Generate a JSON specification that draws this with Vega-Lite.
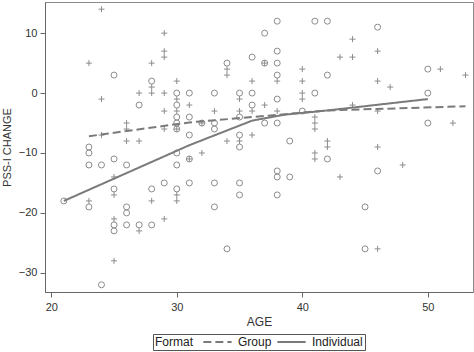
{
  "$schema": "https://vega.github.io/schema/vega-lite/v6.json",
  "width": 428,
  "height": 290,
  "autosize": "none",
  "padding": {"left": 45, "top": 2, "right": 1, "bottom": 60},
  "background": "white",
  "config": {
    "font": "Liberation Sans",
    "view": {"stroke": "#8a8a8a", "strokeWidth": 1},
    "axis": {
      "grid": false,
      "domainColor": "#666666",
      "tickColor": "#666666",
      "tickSize": 5,
      "labelColor": "#333333",
      "labelFontSize": 11,
      "labelFont": "Liberation Sans",
      "titleFont": "Liberation Sans",
      "titleFontWeight": "normal",
      "titleColor": "#333333",
      "titleFontSize": 11
    }
  },
  "datasets": {
    "pts": [
      {"age": 24, "pss": 14, "fmt": "Group"},
      {"age": 29, "pss": 10, "fmt": "Group"},
      {"age": 29, "pss": 7, "fmt": "Group"},
      {"age": 29, "pss": 6, "fmt": "Group"},
      {"age": 23, "pss": 5, "fmt": "Group"},
      {"age": 28, "pss": 5, "fmt": "Group"},
      {"age": 28, "pss": 1, "fmt": "Group"},
      {"age": 30, "pss": 2, "fmt": "Group"},
      {"age": 27, "pss": 0, "fmt": "Group"},
      {"age": 28, "pss": 0, "fmt": "Group"},
      {"age": 29, "pss": 0, "fmt": "Group"},
      {"age": 24, "pss": -1, "fmt": "Group"},
      {"age": 30, "pss": -1, "fmt": "Group"},
      {"age": 31, "pss": -2, "fmt": "Group"},
      {"age": 29, "pss": -3, "fmt": "Group"},
      {"age": 30, "pss": -3, "fmt": "Group"},
      {"age": 26, "pss": -5, "fmt": "Group"},
      {"age": 26, "pss": -6, "fmt": "Group"},
      {"age": 24, "pss": -7, "fmt": "Group"},
      {"age": 29, "pss": -6, "fmt": "Group"},
      {"age": 30, "pss": -6, "fmt": "Group"},
      {"age": 26, "pss": -8, "fmt": "Group"},
      {"age": 27, "pss": -8, "fmt": "Group"},
      {"age": 31, "pss": -11, "fmt": "Group"},
      {"age": 25, "pss": -14, "fmt": "Group"},
      {"age": 23, "pss": -18, "fmt": "Group"},
      {"age": 25, "pss": -17, "fmt": "Group"},
      {"age": 25, "pss": -21, "fmt": "Group"},
      {"age": 27, "pss": -23, "fmt": "Group"},
      {"age": 28, "pss": -18, "fmt": "Group"},
      {"age": 29, "pss": -21, "fmt": "Group"},
      {"age": 30, "pss": -17, "fmt": "Group"},
      {"age": 30, "pss": -18, "fmt": "Group"},
      {"age": 25, "pss": -28, "fmt": "Group"},
      {"age": 32, "pss": -10, "fmt": "Group"},
      {"age": 41, "pss": -10, "fmt": "Group"},
      {"age": 41, "pss": -11, "fmt": "Group"},
      {"age": 42, "pss": -9, "fmt": "Group"},
      {"age": 42, "pss": -8, "fmt": "Group"},
      {"age": 46, "pss": -9, "fmt": "Group"},
      {"age": 43, "pss": -14, "fmt": "Group"},
      {"age": 48, "pss": -12, "fmt": "Group"},
      {"age": 46, "pss": -26, "fmt": "Group"},
      {"age": 37, "pss": 5, "fmt": "Group"},
      {"age": 34, "pss": 4, "fmt": "Group"},
      {"age": 34, "pss": 3, "fmt": "Group"},
      {"age": 38, "pss": 2, "fmt": "Group"},
      {"age": 36, "pss": 2, "fmt": "Group"},
      {"age": 40, "pss": 4, "fmt": "Group"},
      {"age": 40, "pss": 2, "fmt": "Group"},
      {"age": 40, "pss": 0, "fmt": "Group"},
      {"age": 40, "pss": -1, "fmt": "Group"},
      {"age": 35, "pss": -1, "fmt": "Group"},
      {"age": 37, "pss": -2, "fmt": "Group"},
      {"age": 33, "pss": -3, "fmt": "Group"},
      {"age": 35, "pss": -3, "fmt": "Group"},
      {"age": 36, "pss": -3, "fmt": "Group"},
      {"age": 38, "pss": -3, "fmt": "Group"},
      {"age": 32, "pss": -5, "fmt": "Group"},
      {"age": 41, "pss": -4, "fmt": "Group"},
      {"age": 41, "pss": -5, "fmt": "Group"},
      {"age": 41, "pss": -6, "fmt": "Group"},
      {"age": 34, "pss": -8, "fmt": "Group"},
      {"age": 35, "pss": -8, "fmt": "Group"},
      {"age": 36, "pss": -7, "fmt": "Group"},
      {"age": 44, "pss": 9, "fmt": "Group"},
      {"age": 43, "pss": 6, "fmt": "Group"},
      {"age": 44, "pss": 6, "fmt": "Group"},
      {"age": 46, "pss": 7, "fmt": "Group"},
      {"age": 51, "pss": 4, "fmt": "Group"},
      {"age": 53, "pss": 3, "fmt": "Group"},
      {"age": 46, "pss": 2, "fmt": "Group"},
      {"age": 47, "pss": 1, "fmt": "Group"},
      {"age": 44, "pss": -2, "fmt": "Group"},
      {"age": 46, "pss": -3, "fmt": "Group"},
      {"age": 52, "pss": -5, "fmt": "Group"},
      {"age": 25, "pss": 3, "fmt": "Individual"},
      {"age": 28, "pss": 2, "fmt": "Individual"},
      {"age": 30, "pss": 0, "fmt": "Individual"},
      {"age": 31, "pss": 0, "fmt": "Individual"},
      {"age": 27, "pss": -2, "fmt": "Individual"},
      {"age": 30, "pss": -2, "fmt": "Individual"},
      {"age": 30, "pss": -4, "fmt": "Individual"},
      {"age": 31, "pss": -4, "fmt": "Individual"},
      {"age": 30, "pss": -5, "fmt": "Individual"},
      {"age": 30, "pss": -6, "fmt": "Individual"},
      {"age": 31, "pss": -7, "fmt": "Individual"},
      {"age": 23, "pss": -9, "fmt": "Individual"},
      {"age": 23, "pss": -10, "fmt": "Individual"},
      {"age": 23, "pss": -12, "fmt": "Individual"},
      {"age": 24, "pss": -12, "fmt": "Individual"},
      {"age": 25, "pss": -11, "fmt": "Individual"},
      {"age": 26, "pss": -12, "fmt": "Individual"},
      {"age": 30, "pss": -10, "fmt": "Individual"},
      {"age": 30, "pss": -12, "fmt": "Individual"},
      {"age": 31, "pss": -11, "fmt": "Individual"},
      {"age": 21, "pss": -18, "fmt": "Individual"},
      {"age": 23, "pss": -19, "fmt": "Individual"},
      {"age": 25, "pss": -16, "fmt": "Individual"},
      {"age": 26, "pss": -19, "fmt": "Individual"},
      {"age": 26, "pss": -20, "fmt": "Individual"},
      {"age": 25, "pss": -22, "fmt": "Individual"},
      {"age": 25, "pss": -23, "fmt": "Individual"},
      {"age": 26, "pss": -22, "fmt": "Individual"},
      {"age": 27, "pss": -22, "fmt": "Individual"},
      {"age": 28, "pss": -22, "fmt": "Individual"},
      {"age": 28, "pss": -16, "fmt": "Individual"},
      {"age": 29, "pss": -15, "fmt": "Individual"},
      {"age": 30, "pss": -16, "fmt": "Individual"},
      {"age": 31, "pss": -15, "fmt": "Individual"},
      {"age": 24, "pss": -32, "fmt": "Individual"},
      {"age": 35, "pss": -9, "fmt": "Individual"},
      {"age": 33, "pss": -15, "fmt": "Individual"},
      {"age": 35, "pss": -15, "fmt": "Individual"},
      {"age": 35, "pss": -17, "fmt": "Individual"},
      {"age": 33, "pss": -19, "fmt": "Individual"},
      {"age": 34, "pss": -26, "fmt": "Individual"},
      {"age": 38, "pss": -13, "fmt": "Individual"},
      {"age": 38, "pss": -14, "fmt": "Individual"},
      {"age": 39, "pss": -14, "fmt": "Individual"},
      {"age": 38, "pss": -17, "fmt": "Individual"},
      {"age": 42, "pss": -11, "fmt": "Individual"},
      {"age": 46, "pss": -13, "fmt": "Individual"},
      {"age": 45, "pss": -19, "fmt": "Individual"},
      {"age": 45, "pss": -26, "fmt": "Individual"},
      {"age": 38, "pss": 12, "fmt": "Individual"},
      {"age": 41, "pss": 12, "fmt": "Individual"},
      {"age": 42, "pss": 12, "fmt": "Individual"},
      {"age": 37, "pss": 10, "fmt": "Individual"},
      {"age": 38, "pss": 7, "fmt": "Individual"},
      {"age": 36, "pss": 6, "fmt": "Individual"},
      {"age": 37, "pss": 5, "fmt": "Individual"},
      {"age": 38, "pss": 5, "fmt": "Individual"},
      {"age": 34, "pss": 5, "fmt": "Individual"},
      {"age": 38, "pss": 3, "fmt": "Individual"},
      {"age": 41, "pss": 0, "fmt": "Individual"},
      {"age": 42, "pss": 3, "fmt": "Individual"},
      {"age": 33, "pss": 0, "fmt": "Individual"},
      {"age": 35, "pss": 0, "fmt": "Individual"},
      {"age": 36, "pss": 0, "fmt": "Individual"},
      {"age": 36, "pss": -2, "fmt": "Individual"},
      {"age": 38, "pss": -1, "fmt": "Individual"},
      {"age": 40, "pss": -3, "fmt": "Individual"},
      {"age": 35, "pss": -4, "fmt": "Individual"},
      {"age": 32, "pss": -5, "fmt": "Individual"},
      {"age": 33, "pss": -5, "fmt": "Individual"},
      {"age": 33, "pss": -6, "fmt": "Individual"},
      {"age": 37, "pss": -5, "fmt": "Individual"},
      {"age": 38, "pss": -5, "fmt": "Individual"},
      {"age": 35, "pss": -7, "fmt": "Individual"},
      {"age": 39, "pss": -8, "fmt": "Individual"},
      {"age": 46, "pss": 11, "fmt": "Individual"},
      {"age": 50, "pss": 4, "fmt": "Individual"},
      {"age": 50, "pss": 0, "fmt": "Individual"},
      {"age": 50, "pss": -5, "fmt": "Individual"}
    ],
    "fits": [
      {"age": 23, "fit": -7.2, "Format": "Group"},
      {"age": 31, "fit": -4.9, "Format": "Group"},
      {"age": 36, "fit": -4.0, "Format": "Group"},
      {"age": 42, "fit": -2.9, "Format": "Group"},
      {"age": 53, "fit": -2.2, "Format": "Group"},
      {"age": 21, "fit": -18, "Format": "Individual"},
      {"age": 31, "fit": -8.7, "Format": "Individual"},
      {"age": 36, "fit": -4.6, "Format": "Individual"},
      {"age": 38.6, "fit": -3.6, "Format": "Individual"},
      {"age": 42, "fit": -2.9, "Format": "Individual"},
      {"age": 50, "fit": -1.0, "Format": "Individual"}
    ]
  },
  "layer": [
    {
      "data": {"name": "pts"},
      "mark": {"type": "point", "filled": false, "strokeWidth": 1, "color": "#8c8c8c", "opacity": 1},
      "encoding": {
        "x": {"field": "age", "type": "quantitative", "scale": {"domain": [19.5, 53.6], "nice": false, "zero": false},
              "axis": {"values": [20, 30, 40, 50], "title": "AGE", "titleFontSize": 12, "titlePadding": 4, "labelPadding": 4}},
        "y": {"field": "pss", "type": "quantitative", "scale": {"domain": [-33.2, 15.2], "nice": false, "zero": false},
              "axis": {"values": [-30, -20, -10, 0, 10], "title": "PSS-I CHANGE", "titlePadding": 6, "labelPadding": 3}},
        "shape": {"field": "fmt", "type": "nominal", "scale": {"range": ["M-1,0H1M0,-1V1", "circle"]}, "legend": null},
        "size": {"value": 36}
      }
    },
    {
      "data": {"name": "fits"},
      "mark": {"type": "line", "strokeWidth": 2, "color": "#7a7a7a"},
      "encoding": {
        "x": {"field": "age", "type": "quantitative"},
        "y": {"field": "fit", "type": "quantitative"},
        "strokeDash": {"field": "Format", "type": "nominal",
          "scale": {"domain": ["Group", "Individual"], "range": [[8, 4], [1, 0]]},
          "legend": {"title": "Format", "orient": "none", "legendX": 108, "legendY": 332, "direction": "horizontal",
                     "titleOrient": "left", "titleAnchor": "middle", "titleBaseline": "middle", "titlePadding": 8,
                     "titleFontWeight": "normal", "titleFontSize": 12, "titleColor": "#222222",
                     "labelFontSize": 12, "labelColor": "#222222", "symbolSize": 800, "symbolStrokeColor": "#7a7a7a", "symbolStrokeWidth": 2,
                     "clipHeight": 12, "strokeColor": "#555555", "padding": 2, "columnPadding": 4, "labelOffset": 5}}
      }
    }
  ]
}
